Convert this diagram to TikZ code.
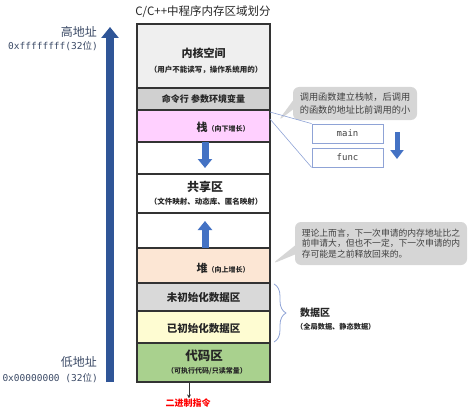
\documentclass[tikz,border=0pt]{standalone}
\usepackage{fontspec}
\setmainfont{Noto Sans CJK SC}
\setmonofont{DejaVu Sans Mono}
\usetikzlibrary{arrows.meta,shapes.callouts,decorations.pathreplacing}
\definecolor{framec}{HTML}{333333}
\definecolor{txtc}{HTML}{262626}
\definecolor{kernelc}{HTML}{EFEFEF}
\definecolor{cmdc}{HTML}{D0D0D0}
\definecolor{stackc}{HTML}{FFD0FF}
\definecolor{heapc}{HTML}{FCE6D4}
\definecolor{uninitc}{HTML}{D9D9D9}
\definecolor{initc}{HTML}{FEFCD2}
\definecolor{codec}{HTML}{A9D18E}
\definecolor{bigblue}{HTML}{2F5597}
\definecolor{midblue}{HTML}{4472C4}
\definecolor{thinblue}{HTML}{8FA3D6}
\definecolor{addrc}{HTML}{3B4A66}
\definecolor{calloutc}{HTML}{D6D6D6}
\definecolor{callouttxt}{HTML}{404040}
\newcommand{\fs}[1]{\fontsize{#1}{#1}\selectfont}
\begin{document}
\begin{tikzpicture}[x=1pt,y=-1pt,
  region/.style={rectangle, draw=framec, line width=1.1pt, minimum width=133pt,
    inner sep=0pt, outer sep=0pt, anchor=north west},
  boxtxt/.style={text=txtc, font=\bfseries, inner sep=0pt},
  addr/.style={text=addrc, inner sep=0pt, anchor=east},
  blockarrow/.style={draw=midblue, line width=7pt,
    -{Triangle[length=9pt,width=14pt]}},
  framebox/.style={rectangle, draw=thinblue, line width=0.8pt, minimum width=71pt,
    minimum height=19pt, inner sep=0pt, text=callouttxt, font=\ttfamily\fs{9}},
  tip/.style={rectangle callout, fill=calloutc, rounded corners=6pt,
    inner sep=0pt, text=callouttxt, callout pointer width=9pt},
  thinline/.style={draw=thinblue, line width=0.6pt}]
\useasboundingbox (0,0) rectangle (474,412);

% title
\node[inner sep=0pt, text=txtc] (title) at (203,12) {\fs{11.5}C/C++中程序内存区域划分};

% memory regions
\node[region, fill=kernelc, minimum height=64pt] (kernel) at (137,24) {};
\node[region, fill=cmdc, minimum height=22pt] (cmd) at (137,88) {};
\node[region, fill=stackc, minimum height=32pt] (stack) at (137,110) {};
\node[region, fill=white, minimum height=32pt] (gapa) at (137,142) {};
\node[region, fill=white, minimum height=39pt] (shared) at (137,174) {};
\node[region, fill=white, minimum height=35pt] (gapb) at (137,213) {};
\node[region, fill=heapc, minimum height=35pt] (heap) at (137,248) {};
\node[region, fill=uninitc, minimum height=28pt] (uninit) at (137,283) {};
\node[region, fill=initc, minimum height=32pt] (init) at (137,311) {};
\node[region, fill=codec, minimum height=39pt] (code) at (137,343) {};

% region texts
\node[boxtxt] (kernelt) at (203.5,53) {\fs{11}内核空间};
\node[boxtxt] (kernels) at (206,70) {\fs{7.5}（用户不能读写，操作系统用的）};
\node[boxtxt] (cmdt) at (203.5,99) {\fs{9}命令行 参数环境变量};
\node[boxtxt] (stackt) at (223,127) {\fs{11}栈\fs{7}（向下增长）};
\node[boxtxt] (sharedt) at (205,187) {\fs{12}共享区};
\node[boxtxt] (shareds) at (206,202) {\fs{7.5}（文件映射、动态库、匿名映射）};
\node[boxtxt] (heapt) at (223,268) {\fs{11}堆\fs{7}（向上增长）};
\node[boxtxt] (uninitt) at (203.5,297) {\fs{10.5}未初始化数据区};
\node[boxtxt] (initt) at (203.5,328) {\fs{10.5}已初始化数据区};
\node[boxtxt] (codet) at (204,356) {\fs{12.5}代码区};
\node[boxtxt] (codes) at (207,371) {\fs{7}（可执行代码/只读常量）};

% growth arrows
\coordinate (stackfrom) at (205,142);
\coordinate (stackto) at (205,168);
\coordinate (heapfrom) at (205,248);
\coordinate (heapto) at (205,221);
\draw[blockarrow] (stackfrom) -- (stackto);
\draw[blockarrow] (heapfrom) -- (heapto);

% address axis
\coordinate (lowaddr) at (110,382);
\coordinate (highaddr) at (110,27);
\draw[draw=bigblue, line width=8pt, -{Triangle[length=11pt,width=17pt]}] (lowaddr) -- (highaddr);
\node[addr] (hi) at (97,32) {\fs{12}高地址};
\node[addr] (hihex) at (98,46) {\fs{9.5}\ttfamily 0xffffffff(32\rmfamily 位\ttfamily )};
\node[addr] (lo) at (97,362) {\fs{12}低地址};
\node[addr] (lohex) at (98,378) {\fs{9.5}\ttfamily 0x00000000 (32\rmfamily 位\ttfamily )};

% stack frames
\node[tip, minimum width=124pt, minimum height=33pt, align=center, font=\fs{9.2},
  callout absolute pointer={(278,121)}] (tipa) at (355,103.5)
  {调用函数建立栈帧，后调用\\[4.5pt]的函数的地址比前调用的小};
\node[framebox] (mainf) at (347.5,133.5) {main};
\node[framebox] (funcf) at (347.5,157.5) {func};
\draw[thinline] ([yshift=-2pt]stack.north east) -- (mainf.north west);
\draw[thinline] ([yshift=-9pt]stack.north east) -- (funcf.south west);
\coordinate (dfrom) at (397,132);
\coordinate (dto) at (397,159);
\draw[draw=midblue, line width=5pt, -{Triangle[length=9pt,width=13pt]}] (dfrom) -- (dto);

% heap callout
\node[tip, minimum width=172pt, minimum height=43pt, align=left, font=\fs{8.8},
  callout absolute pointer={(272,264)}] (tipb) at (381,243.5)
  {理论上而言，下一次申请的内存地址比之\\[1.6pt]前申请大，但也不一定，下一次申请的内\\[1.6pt]存可能是之前释放回来的。};

% data brace
\coordinate (bracetop) at (274,284);
\coordinate (bracebot) at (274,342);
\draw[draw=thinblue, line width=0.8pt, decorate,
  decoration={brace, amplitude=12pt}] (bracetop) -- (bracebot);
\node[boxtxt, anchor=west] (datat) at (300,313) {\fs{10}数据区};
\node[boxtxt, anchor=west] (datas) at (296,327) {\fs{7.2}（全局数据、静态数据）};

% binary
\coordinate (codeout) at (189,382);
\node[inner sep=0pt, text=red, font=\bfseries] (bin) at (188,403) {\fs{9}二进制指令};
\draw[draw=framec, line width=0.8pt, -{Stealth[length=4pt,width=4pt]}] (codeout) -- (codeout |- bin.north);
\end{tikzpicture}
\end{document}
